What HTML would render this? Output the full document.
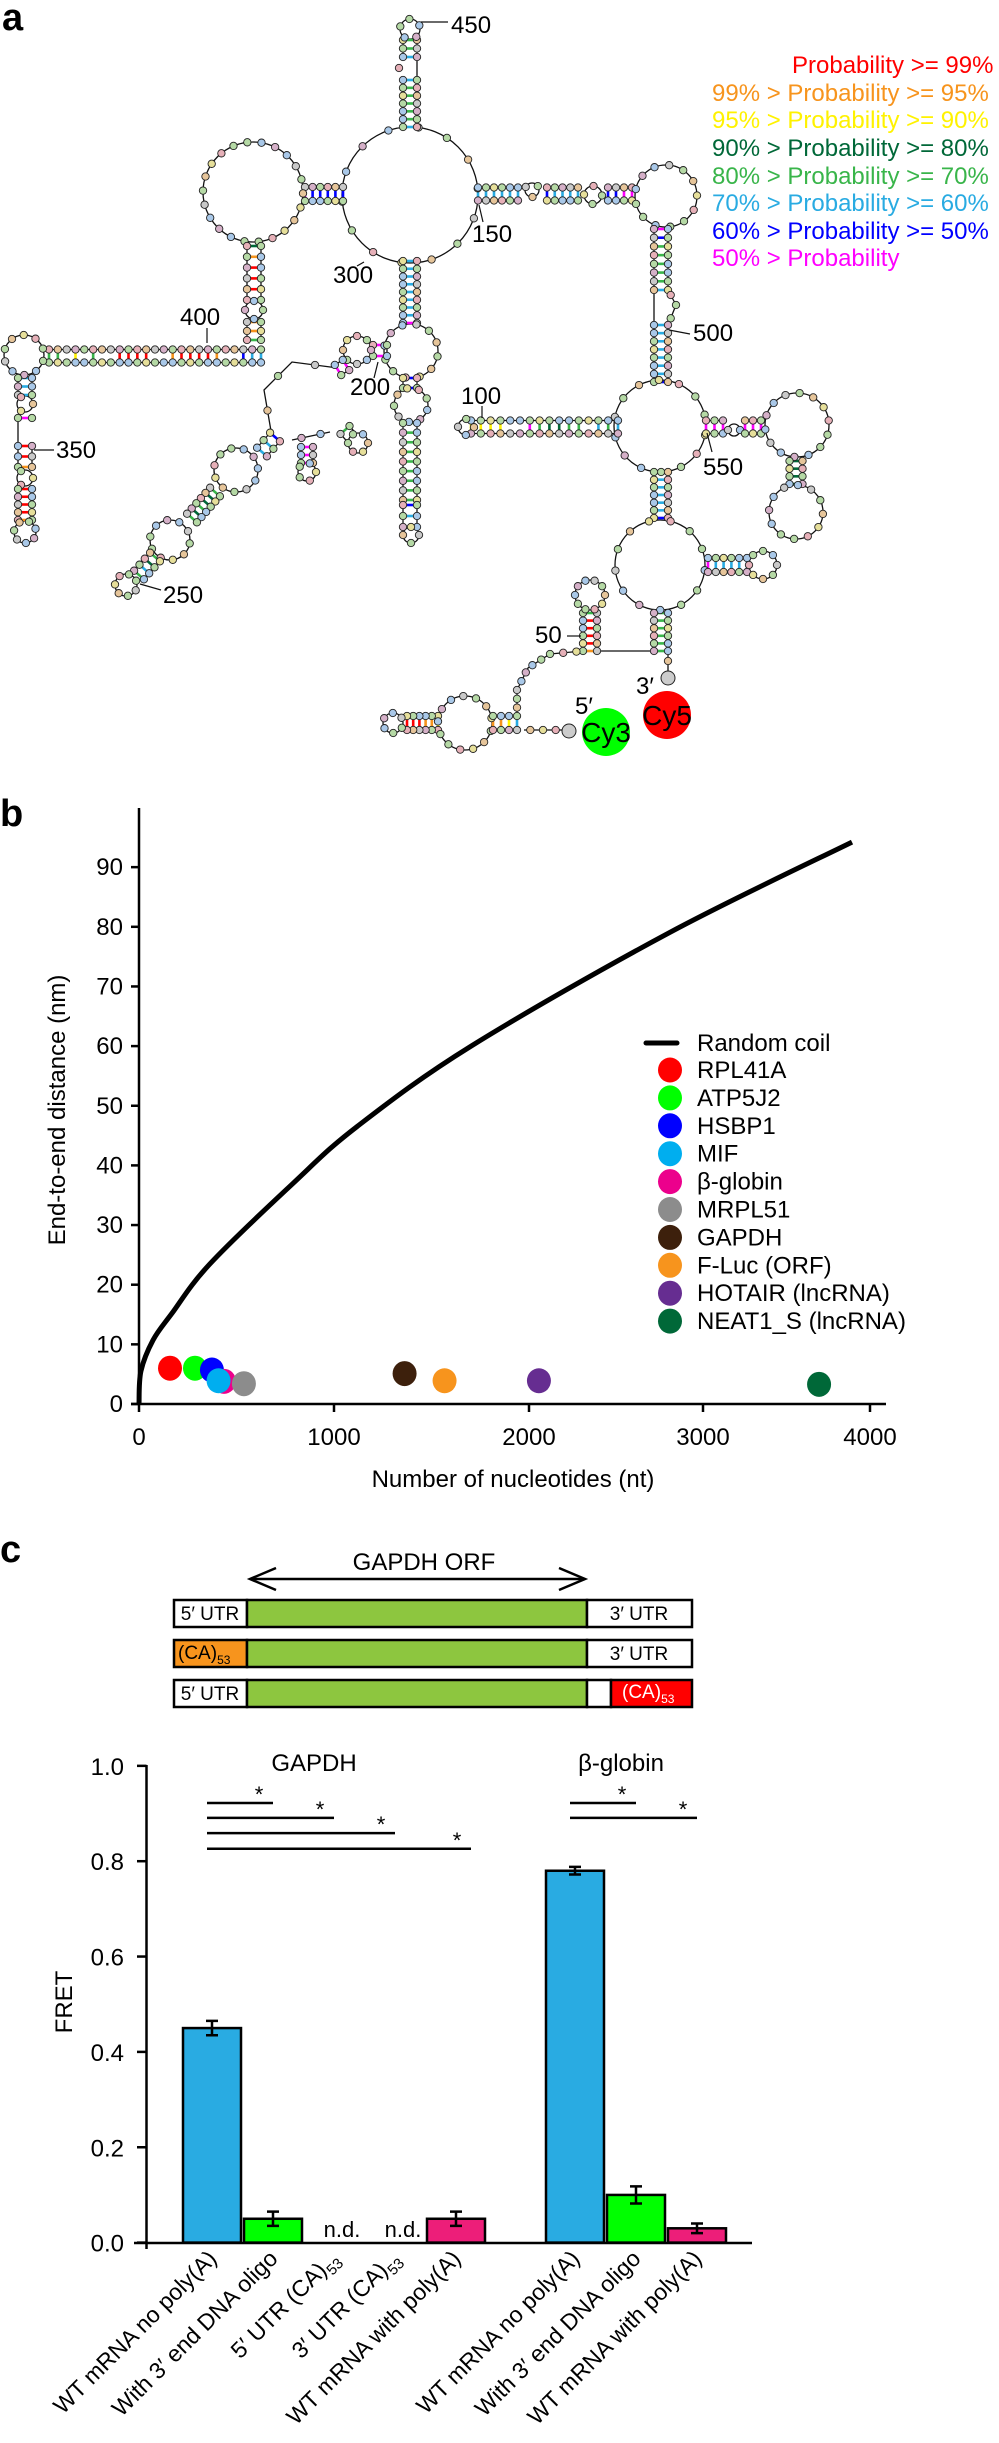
<!DOCTYPE html>
<html><head><meta charset="utf-8"><style>
html,body{margin:0;padding:0;background:#fff;}
svg{display:block;font-family:"Liberation Sans",Arial,sans-serif;}
</style></head><body>
<svg id="fig" width="999" height="2443" viewBox="0 0 999 2443" xmlns="http://www.w3.org/2000/svg">
<g id="pa">
<text x="2" y="30" font-size="38" font-weight="bold">a</text>
<g id="rnaLines" fill="none" stroke="#111" stroke-width="1.3"></g>
<g id="rnaPairs"></g>
<g id="rnaDots"></g>
<g font-size="24">
<text x="792" y="73" fill="#ff0000">Probability &gt;= 99%</text>
<text x="712" y="101" fill="#f7941d">99% &gt; Probability &gt;= 95%</text>
<text x="712" y="128" fill="#fff200">95% &gt; Probability &gt;= 90%</text>
<text x="712" y="156" fill="#006838">90% &gt; Probability &gt;= 80%</text>
<text x="712" y="184" fill="#39b54a">80% &gt; Probability &gt;= 70%</text>
<text x="712" y="211" fill="#29abe2">70% &gt; Probability &gt;= 60%</text>
<text x="712" y="239" fill="#0000ff">60% &gt; Probability &gt;= 50%</text>
<text x="712" y="266" fill="#ff00ff">50% &gt; Probability</text>
</g>
<g font-size="24" fill="#000">
<text x="451" y="33">450</text>
<text x="472" y="242">150</text>
<text x="333" y="283">300</text>
<text x="180" y="325">400</text>
<text x="693" y="341">500</text>
<text x="350" y="395">200</text>
<text x="461" y="404">100</text>
<text x="56" y="458">350</text>
<text x="703" y="475">550</text>
<text x="163" y="603">250</text>
<text x="535" y="643">50</text>
<text x="636" y="694">3′</text>
<text x="575" y="714">5′</text>
</g>
<g stroke="#111" stroke-width="1.2">
<line x1="421" y1="22" x2="448" y2="22"/><line x1="479" y1="205" x2="483" y2="222"/><line x1="364" y1="262" x2="357" y2="266"/>
<line x1="207" y1="328" x2="207" y2="343"/><line x1="669" y1="330" x2="690" y2="334"/><line x1="378" y1="362" x2="374" y2="378"/>
<line x1="482" y1="406" x2="482" y2="418"/><line x1="34" y1="450" x2="54" y2="450"/><line x1="707" y1="433" x2="712" y2="452"/>
<line x1="140" y1="584" x2="161" y2="590"/><line x1="567" y1="636" x2="581" y2="636"/>
</g>
<circle cx="606" cy="732" r="24" fill="#00ff00"/>
<text x="606" y="742" font-size="28" text-anchor="middle">Cy3</text>
<circle cx="667" cy="715" r="24" fill="#ff0000"/>
<text x="667" y="725" font-size="28" text-anchor="middle">Cy5</text>
</g>

<g id="pb">
<text x="0" y="826" font-size="38" font-weight="bold">b</text>
<g id="pbAxes"></g>
<path id="coil" fill="none" stroke="#000" stroke-width="5" stroke-linejoin="round"/>
<g id="pbDots"></g>
<g id="pbLegend"></g>
<text x="513" y="1487" font-size="24" text-anchor="middle">Number of nucleotides (nt)</text>
<text transform="translate(65,1110) rotate(-90)" font-size="24" text-anchor="middle">End-to-end distance (nm)</text>
</g>

<g id="pc">
<text x="0" y="1562" font-size="38" font-weight="bold">c</text>
<text x="424" y="1570" font-size="24" text-anchor="middle">GAPDH ORF</text>
<g stroke="#000" stroke-width="2.5" fill="none">
<line x1="250" y1="1579" x2="585" y2="1579"/><polyline points="276,1568 250,1579 276,1590"/><polyline points="559,1568 585,1579 559,1590"/>
</g>
<g stroke="#000" stroke-width="2.5" font-size="19">
<g>
<rect x="174" y="1600" width="73" height="27" fill="#fff"/><rect x="247" y="1600" width="340" height="27" fill="#8dc63f"/><rect x="587" y="1600" width="105" height="27" fill="#fff"/>
<text x="210" y="1620" text-anchor="middle" stroke="none">5′ UTR</text><text x="639" y="1620" text-anchor="middle" stroke="none">3′ UTR</text></g>
<g>
<rect x="174" y="1640" width="73" height="27" fill="#f7941d"/><rect x="247" y="1640" width="340" height="27" fill="#8dc63f"/><rect x="587" y="1640" width="105" height="27" fill="#fff"/>
<text x="178" y="1659" stroke="none">(CA)<tspan font-size="12" dy="5">53</tspan></text><text x="639" y="1660" text-anchor="middle" stroke="none">3′ UTR</text></g>
<g>
<rect x="174" y="1680" width="73" height="27" fill="#fff"/><rect x="247" y="1680" width="340" height="27" fill="#8dc63f"/><rect x="587" y="1680" width="24" height="27" fill="#fff"/><rect x="611" y="1680" width="81" height="27" fill="#ff0000"/>
<text x="210" y="1700" text-anchor="middle" stroke="none">5′ UTR</text><text x="622" y="1698" stroke="none" fill="#fff">(CA)<tspan font-size="12" dy="5">53</tspan></text></g>
</g>
<text x="314" y="1771" font-size="24" text-anchor="middle">GAPDH</text>
<text x="621" y="1771" font-size="24" text-anchor="middle">β-globin</text>
<g id="pcAxes"></g>
<g id="pcBars"></g>
<g id="pcSig"></g>
<g id="pcLabels"></g>
<text transform="translate(72,2002) rotate(-90)" font-size="24" text-anchor="middle">FRET</text>
</g>
</svg>
<script>
// ===== Panel b data =====
const coilNt = [0, 10, 72, 169, 364, 790, 1118, 1703, 2805, 3892];
const coilNm = [0, 5.5, 10.7, 15.2, 23.5, 37, 46.5, 60, 79, 94.2];
const rnaNames = ["RPL41A","ATP5J2","HSBP1","β-globin","MIF","MRPL51","GAPDH","F-Luc (ORF)","HOTAIR (lncRNA)","NEAT1_S (lncRNA)"];
const rnaNt = [159, 287, 374, 436, 408, 538, 1362, 1567, 2057, 3695];
const rnaNm = [6.0, 6.0, 5.7, 3.8, 3.9, 3.4, 5.1, 3.9, 3.9, 3.3];
const rnaColors = ["#ff0000","#00ff00","#0000ff","#ec008c","#00aeef","#8c8c8c","#3d200c","#f7941d","#662d91","#006838"];
const legendOrder = ["RPL41A","ATP5J2","HSBP1","MIF","β-globin","MRPL51","GAPDH","F-Luc (ORF)","HOTAIR (lncRNA)","NEAT1_S (lncRNA)"];
const bYTicks = [0,10,20,30,40,50,60,70,80,90];
const bXTicks = [0,1000,2000,3000,4000];
// ===== Panel c data =====
const fretCats = ["WT mRNA no poly(A)","With 3′ end DNA oligo","5′ UTR (CA)53","3′ UTR (CA)53","WT mRNA with poly(A)","WT mRNA no poly(A)","With 3′ end DNA oligo","WT mRNA with poly(A)"];
const fretValues = [0.45, 0.05, null, null, 0.05, 0.78, 0.10, 0.03];
const fretErr = [0.015, 0.015, 0, 0, 0.015, 0.008, 0.018, 0.01];
const fretColors = ["#29abe2","#00ff00",null,null,"#ed1e79","#29abe2","#00ff00","#ed1e79"];
const cYTicks = [0.0,0.2,0.4,0.6,0.8,1.0];
const sigFrom = [0,0,0,0,5,5];
const sigTo = [1,2,3,4,6,7];
const sigLevel = [0.922,0.891,0.859,0.826,0.922,0.891];

const NS="http://www.w3.org/2000/svg";
function mk(tag,attrs,parent){const e=document.createElementNS(NS,tag);for(const k in attrs)e.setAttribute(k,attrs[k]);parent.appendChild(e);return e;}

// ---- Panel b scales (piecewise calibration to drawn tick marks)
const bTickPx=[139,334,529,703,870];
function bx(n){for(let i=0;i<bXTicks.length-1;i++){if(n<=bXTicks[i+1]||i==bXTicks.length-2){return bTickPx[i]+(n-bXTicks[i])/(bXTicks[i+1]-bXTicks[i])*(bTickPx[i+1]-bTickPx[i]);}}}
function by(v){return 1404-v*5.965;}
const ax=document.getElementById('pbAxes');
let e=mk('line',{x1:139,y1:808,x2:139,y2:1404,stroke:'#000','stroke-width':2.5},ax);

e=mk('line',{x1:131,y1:1404,x2:886,y2:1404,stroke:'#000','stroke-width':2.5},ax);

bYTicks.forEach(v=>{const y=by(v);
 let t=mk('line',{x1:131,y1:y,x2:139,y2:y,stroke:'#000','stroke-width':2.5},ax);
 
 t=mk('text',{x:123,y:y+8,'font-size':24,'text-anchor':'end'},ax);t.textContent=v;
 });
bXTicks.forEach(v=>{const x=bx(v);
 let t=mk('line',{x1:x,y1:1404,x2:x,y2:1412,stroke:'#000','stroke-width':2.5},ax);
 
 t=mk('text',{x:x,y:1445,'font-size':24,'text-anchor':'middle'},ax);t.textContent=v;
 });
// smooth Catmull-Rom path through coil points
(function(){const P=coilNt.map((n,i)=>[bx(n),by(coilNm[i])]);let d='M'+P[0][0].toFixed(1)+','+P[0][1].toFixed(1);
 for(let i=0;i<P.length-1;i++){const p0=P[Math.max(0,i-1)],p1=P[i],p2=P[i+1],p3=P[Math.min(P.length-1,i+2)];
  const c1=[p1[0]+(p2[0]-p0[0])/6,p1[1]+(p2[1]-p0[1])/6],c2=[p2[0]-(p3[0]-p1[0])/6,p2[1]-(p3[1]-p1[1])/6];
  d+=` C${c1[0].toFixed(1)},${c1[1].toFixed(1)} ${c2[0].toFixed(1)},${c2[1].toFixed(1)} ${p2[0].toFixed(1)},${p2[1].toFixed(1)}`;}
 document.getElementById('coil').setAttribute('d',d);})();
const dg=document.getElementById('pbDots');
rnaNt.forEach((n,i)=>{const c=mk('ellipse',{cx:bx(n),cy:by(rnaNm[i]),rx:12,ry:12.5,fill:rnaColors[i]},dg);
 });
const lg=document.getElementById('pbLegend');
e=mk('line',{x1:646,y1:1043,x2:677,y2:1043,stroke:'#000','stroke-width':5,'stroke-linecap':'round'},lg);

e=mk('text',{x:697,y:1051,'font-size':24},lg);e.textContent='Random coil';

legendOrder.forEach((nm,k)=>{const i=rnaNames.indexOf(nm);const y=1070+k*27.9;
 let c=mk('ellipse',{cx:670,cy:y,rx:12,ry:12.5,fill:rnaColors[i]},lg);
 
 c=mk('text',{x:697,y:y+8,'font-size':24},lg);c.textContent=nm;
 });

// ---- Panel c
function cy(v){return 2242.6-v*476.75;}
function cx(i){return i<5?212+i*61:575+(i-5)*61;}
const cax=document.getElementById('pcAxes');
e=mk('line',{x1:146.5,y1:1765,x2:146.5,y2:2249,stroke:'#000','stroke-width':2.5},cax);

e=mk('line',{x1:134,y1:2243,x2:752,y2:2243,stroke:'#000','stroke-width':2.5},cax);

cYTicks.forEach(v=>{const y=cy(v);
 let t=mk('line',{x1:137,y1:y,x2:146.5,y2:y,stroke:'#000','stroke-width':2.5},cax);
 
 t=mk('text',{x:124,y:y+9,'font-size':24,'text-anchor':'end'},cax);t.textContent=v.toFixed(1);
 });
const bg=document.getElementById('pcBars');
fretValues.forEach((v,i)=>{const x=cx(i);
 if(v===null){const t=mk('text',{x:x+8,y:2237,'font-size':22,'text-anchor':'middle'},bg);t.textContent='n.d.';
  return;}
 const r=mk('rect',{x:x-29,y:cy(v),width:58,height:cy(0)-cy(v),fill:fretColors[i],stroke:'#000','stroke-width':2.5},bg);
 
 const y1=cy(v+fretErr[i]),y2=cy(v-fretErr[i]);
 const p=mk('path',{d:`M${x},${y1}V${y2}M${x-6},${y1}H${x+6}M${x-6},${y2}H${x+6}`,stroke:'#000','stroke-width':2.5,fill:'none'},bg);
 });
const sg=document.getElementById('pcSig');
sigFrom.forEach((f,k)=>{const y=cy(sigLevel[k]);const x1=cx(f)-5,x2=cx(sigTo[k])+(sigTo[k]==4?15:0);
 let l=mk('line',{x1:x1,y1:y,x2:x2,y2:y,stroke:'#000','stroke-width':2.5},sg);
 
 l=mk('text',{x:x2-14,y:y-1,'font-size':22,'text-anchor':'middle'},sg);l.textContent='*';
 });
const lab=document.getElementById('pcLabels');
fretCats.forEach((c,i)=>{const x=cx(i)+6;
 const t=mk('text',{transform:`translate(${x},2260) rotate(-45)`,'font-size':23,'text-anchor':'end'},lab);
 if(c.endsWith('53')){t.textContent=c.slice(0,-2);const s=mk('tspan',{'font-size':15,dy:6},t);s.textContent='53';}
 else t.textContent=c;
 });

// ---- Panel a RNA structure (approximate)
const L=document.getElementById('rnaLines'),P=document.getElementById('rnaPairs'),D=document.getElementById('rnaDots');
const pal=["#b5d9a5","#e6b0b8","#a9c8e8","#c9c9c9","#e6df9a","#b5d9a5","#a9c8e8","#e6c59a","#b5d9a5","#d5b0c8"];
const pc={R:"#ff0000",O:"#f7941d",Y:"#fff200",D:"#006838",G:"#39b54a",B:"#29abe2",U:"#0000ff",M:"#ff00ff"};
let ci=0;
function nuc(x,y){const c=mk('circle',{cx:x.toFixed(1),cy:y.toFixed(1),r:3.7,fill:pal[(ci*7+3)%pal.length],stroke:'#222','stroke-width':0.9},D);ci++;
 }
function ln(pts){const p=mk('polyline',{points:pts.map(q=>q.join(',')).join(' ')},L);
 }
function stem(x1,y1,x2,y2,codes,w){w=w||14;const n=codes.length;const dx=x2-x1,dy=y2-y1,len=Math.hypot(dx,dy)||1;const px=-dy/len*w/2,py=dx/len*w/2;
 ln([[x1+px,y1+py],[x2+px,y2+py]]);ln([[x1-px,y1-py],[x2-px,y2-py]]);
 for(let i=0;i<n;i++){const t=n==1?0:i/(n-1);const x=x1+dx*t,y=y1+dy*t;
  if(codes[i]!=' '){const b=mk('line',{x1:x+px,y1:y+py,x2:x-px,y2:y-py,stroke:pc[codes[i]],'stroke-width':2.6},P);
   }
  nuc(x+px,y+py);nuc(x-px,y-py);}}
function loop(x,y,r,n,a0){a0=a0||0;const c=mk('circle',{cx:x,cy:y,r:r},L);
 for(let i=0;i<n;i++){const a=a0+i/n*2*Math.PI;nuc(x+r*Math.cos(a),y+r*Math.sin(a));}}
function strand(pts,n){ln(pts);for(let i=0;i<n;i++){const t=(i+0.5)/n*(pts.length-1);const k=Math.min(Math.floor(t),pts.length-2);const f=t-k;
 nuc(pts[k][0]+(pts[k+1][0]-pts[k][0])*f,pts[k][1]+(pts[k+1][1]-pts[k][1])*f);}}

loop(410,195,68,14,0.35);
stem(410,127,410,80,"BGGGGGB");stem(410,57,410,40,"BGG");ln([[417,57],[417,80]]);nuc(399,68);
loop(410,29,10,5,3.4);
stem(343,194,305,194,"UUUUUM");
loop(253,192,50,22,0.6);
stem(254,246,254,300,"DORRRR");loop(254,310,9,4,0);stem(254,322,254,340,"OOG");
stem(261,356,49,356,"GG Y G  RRRR  ORRRRO  UBB".split('').reverse().join(''),13);
ln([[261,349],[261,363]]);
loop(24,355,20,10,0.3);
stem(25,378,25,395,"BBB");loop(25,404,8,3,0);stem(25,418,25,420,"M");
stem(25,446,25,467,"RRO");loop(25,478,8,3,0);stem(25,489,25,520,"RRRRO");
loop(25,532,11,7,-1.2);ln([[18,420],[18,446]]);
stem(410,261,410,323,"BBBBBBBBM");
loop(411,351,27,12,0.2);
stem(410,378,410,388,"UU");
loop(411,405,17,9,0.3);
stem(410,423,410,500,"GGGGGGGGG");stem(410,505,410,527,"UBB");loop(411,535,8,4,0);
stem(380,345,380,356,"MM");loop(357,350,14,8,0);
stem(338,370,346,365,"MM",12);
strand([[338,368],[292,362],[264,390],[271,431]],3);
stem(275,437,262,452,"UBB",13);
loop(236,470,22,11,0.5);
stem(215,492,192,518,"GDDGDG",13);
loop(170,540,20,10,0.8);
stem(155,557,139,575,"GDBG",13);
loop(126,585,11,7,0.5);
stem(307,447,307,463,"MMM",12);loop(307,472,9,5,0);
strand([[292,440],[330,432]],2);
stem(345,430,352,438,"G",12);loop(358,443,10,6,0);
stem(478,194,518,194,"BBBBBB",13);loop(532,190,7,3,3.6);
stem(547,194,578,194,"UBBBB",13);loop(593,195,9,4,3.2);
stem(608,194,632,194,"UUMM",13);
loop(666,196,31,13,2.4);
stem(661,229,661,290,"MUGGGGGB");
strand([[668,290],[676,305],[668,325]],3);ln([[654,290],[654,325]]);
stem(661,325,661,382,"BBBBBBBU");
loop(660,426,46,14,0.2);
stem(618,427,471,427,"BGB GGDDGM  YYYY",13);
loop(466,427,8,4,1.6);
stem(706,427,723,427,"MMM",13);loop(734,430,6,2,0);stem(745,427,761,427,"MMM",13);
loop(797,425,32,14,3.0);
stem(796,461,796,484,"DDDD",13);
loop(796,512,27,12,-1.5);
stem(661,472,661,518,"BBBBBBU");
loop(660,565,45,13,0.6);
stem(708,565,747,565,"MBBBBB",14);
loop(763,565,14,8,0);
stem(661,613,661,651,"GGGGGG");
stem(590,651,590,613,"ORRRRG");
loop(590,595,15,10,0);
ln([[597,651],[654,651]]);
strand([[668,651],[668,671]],1);
const g=mk('circle',{cx:668,cy:678,r:7,fill:'#ccc',stroke:'#222','stroke-width':1},D);

strand([[583,651],[550,654],[528,668],[517,690],[517,712]],10);
stem(438,723,407,723,"YOORRR",14);
loop(393,723,10,6,0.5);
loop(465,723,27,13,0.3);
stem(493,723,517,723,"OOYB",14);
strand([[524,730],[562,730]],3);
const a=mk('circle',{cx:569,cy:731,r:7,fill:'#ccc',stroke:'#222','stroke-width':1},D);

</script>
</body></html>
